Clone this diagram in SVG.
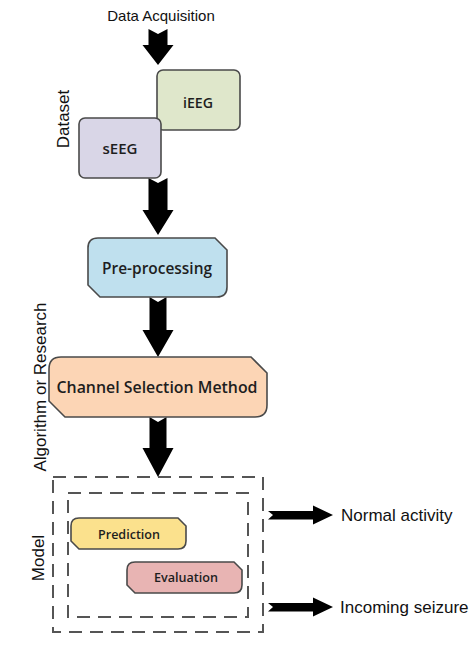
<svg xmlns="http://www.w3.org/2000/svg" width="474" height="667" viewBox="0 0 474 667">
<style>
.lbl{font-family:"Liberation Sans",Arial,sans-serif;fill:#111;}
.box{stroke:#4a4a4a;stroke-width:1.6;}
.in{font-family:"Open Sans","Noto Sans",sans-serif;fill:#1e1e1e;text-anchor:middle;font-weight:600;}
.arr{fill:#000;}
.dash{fill:none;stroke:#555;stroke-width:2;stroke-dasharray:13 8;}
</style>
<rect width="474" height="667" fill="#fff"/>
<text class="lbl" x="161" y="21" font-size="15" text-anchor="middle">Data Acquisition</text>
<text class="lbl" font-size="17" text-anchor="middle" transform="translate(69,119) rotate(-90)">Dataset</text>
<text class="lbl" font-size="17" text-anchor="middle" transform="translate(46,387) rotate(-90)">Algorithm or Research</text>
<text class="lbl" font-size="17" text-anchor="middle" transform="translate(44,558) rotate(-90)">Model</text>

<g id="connectors">
<path class="arr" d="M148.5,29 L158,34 L167.5,29 L167.5,45 L173.5,45 L158,65 L142.5,45 L148.5,45 Z"/>
<path class="arr" d="M148.5,178 L158,183 L167.5,178 L167.5,210 L173.5,210 L158,235 L142.5,210 L148.5,210 Z"/>
<path class="arr" d="M149.5,297 L158,302 L166.5,297 L166.5,330 L173.5,330 L158,357 L142.5,330 L149.5,330 Z"/>
<path class="arr" d="M149.5,417 L158,422 L166.5,417 L166.5,448 L173.5,448 L158,477 L142.5,448 L149.5,448 Z"/>
<path class="arr" d="M268,511 L273,515 L268,519.5 L313,519.5 L313,524.5 L333,515 L313,505.5 L313,511 Z"/>
<path class="arr" d="M268,603 L273,607 L268,611.5 L313,611.5 L313,616.5 L333,607 L313,597.5 L313,603 Z"/>
</g>

<g id="model-outer"><rect class="dash" x="53" y="477" width="210" height="155"/></g>
<g id="model-inner"><rect class="dash" x="68" y="493" width="180" height="124"/></g>

<g id="iEEG">
<rect class="box" x="157" y="70" width="83" height="60" rx="6" fill="#dfe7cb"/>
<text class="in" x="198" y="108" font-size="15" textLength="30" lengthAdjust="spacingAndGlyphs">iEEG</text>
</g>
<g id="sEEG">
<rect class="box" x="79" y="118" width="82" height="60" rx="6" fill="#d9d6e7"/>
<text class="in" x="120" y="154" font-size="15" textLength="35" lengthAdjust="spacingAndGlyphs">sEEG</text>
</g>
<g id="preprocessing">
<path class="box" fill="#bfe0ee" d="M98,238 H215 L227,250 V287 Q227,297 217,297 H100 L88,285 V248 Q88,238 98,238 Z"/>
<text class="in" x="157" y="274" font-size="16" textLength="110" lengthAdjust="spacingAndGlyphs">Pre-processing</text>
</g>
<g id="channel-selection">
<path class="box" fill="#fcd5b5" d="M61,357 H251 L267,373 V405 Q267,417 255,417 H65 L49,401 V369 Q49,357 61,357 Z"/>
<text class="in" x="157" y="393" font-size="16" textLength="201" lengthAdjust="spacingAndGlyphs">Channel Selection Method</text>
</g>
<g id="prediction">
<path class="box" fill="#fbe18d" d="M79,518 H178 L186,526 V541 Q186,549 178,549 H79 L71,541 V526 Q71,518 79,518 Z"/>
<text class="in" x="129" y="538.5" font-size="12" textLength="62" lengthAdjust="spacingAndGlyphs">Prediction</text>
</g>
<g id="evaluation">
<path class="box" fill="#e8b4b3" d="M135,562 H234 L242,570 V585 Q242,593 234,593 H135 L127,585 V570 Q127,562 135,562 Z"/>
<text class="in" x="186" y="581.5" font-size="12" textLength="64" lengthAdjust="spacingAndGlyphs">Evaluation</text>
</g>

<text class="lbl" x="341" y="521" font-size="17">Normal activity</text>
<text class="lbl" x="340" y="613" font-size="17">Incoming seizure</text>
</svg>
